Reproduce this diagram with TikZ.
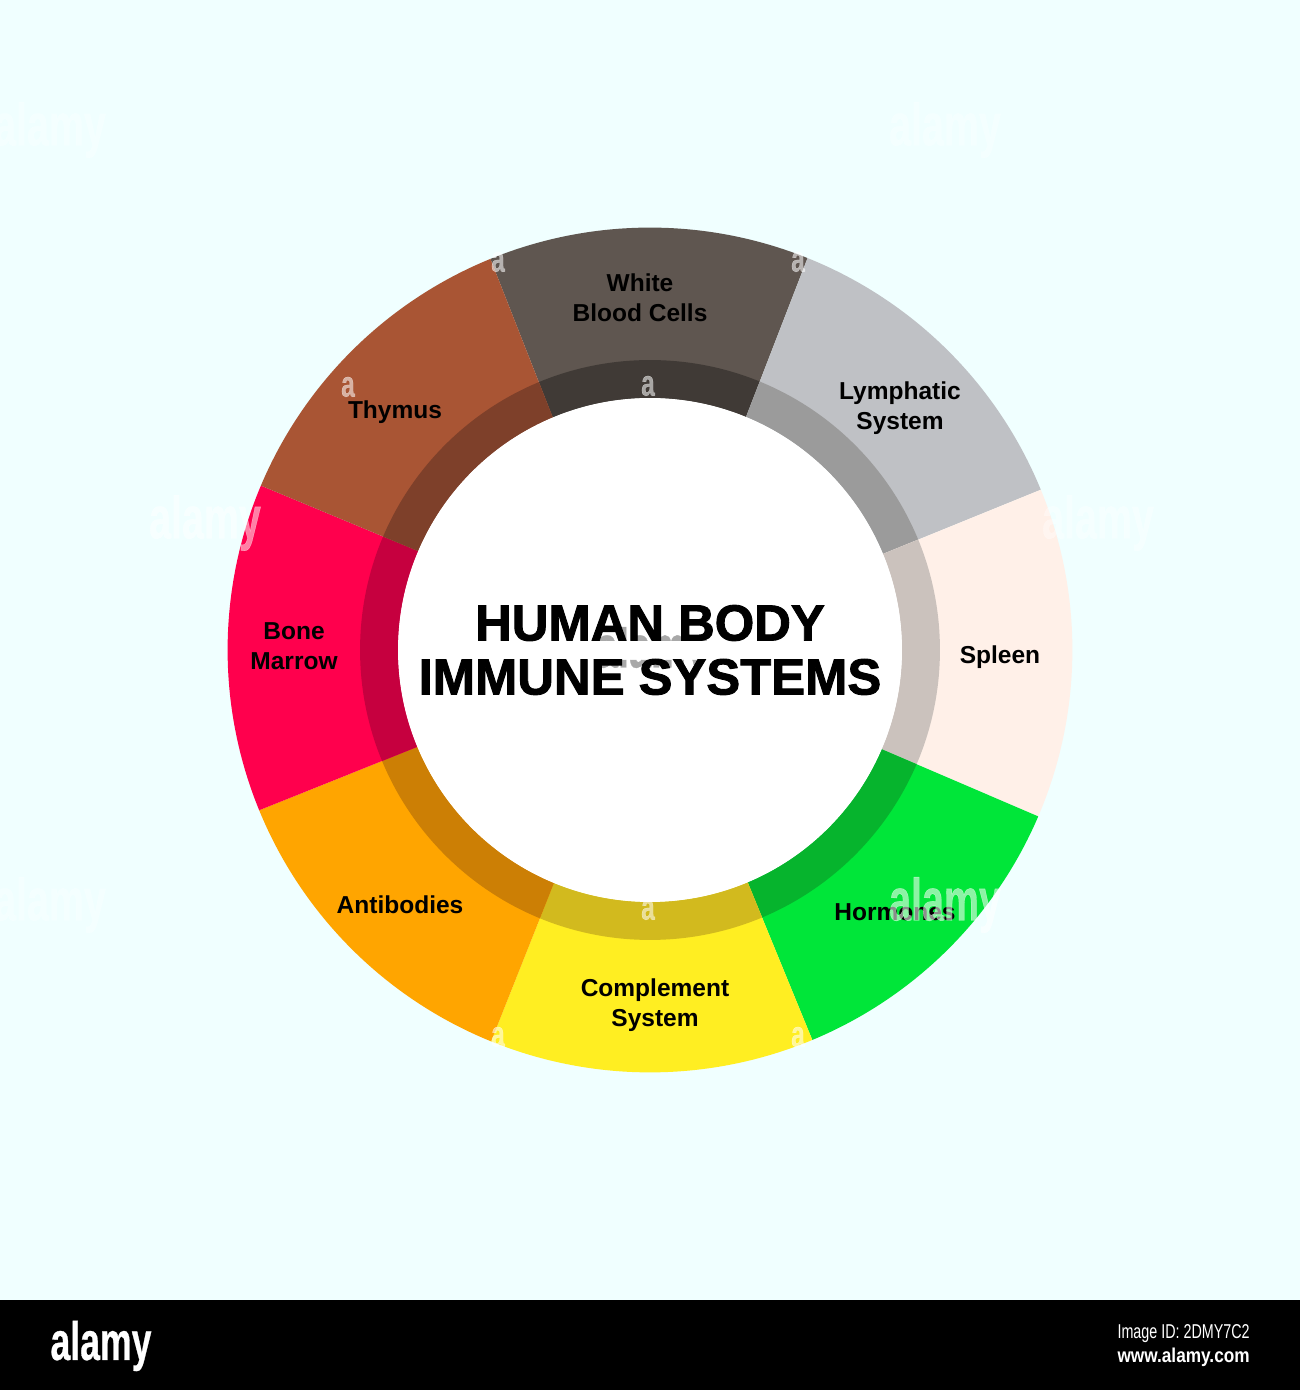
\documentclass[tikz,border=0pt]{standalone}
\usepackage{fontspec}
\setmainfont{Liberation Sans}
\newfontfamily\titlefont{Liberation Sans Bold}[FakeBold=1.8]
\newfontfamily\logofont{Liberation Sans Bold}[FakeStretch=0.66,FakeBold=0.5]
\newfontfamily\idfont{Liberation Sans}[FakeStretch=0.715]
\newfontfamily\urlfont{Liberation Sans}[BoldFeatures={FakeStretch=0.86}]
\definecolor{bgazure}{HTML}{F0FFFF}
\definecolor{cwhite}{HTML}{5F5650}\definecolor{rwhite}{HTML}{403A36}
\definecolor{clymph}{HTML}{BFC1C5}\definecolor{rlymph}{HTML}{9B9B9B}
\definecolor{csplee}{HTML}{FFF0E8}\definecolor{rsplee}{HTML}{CBC2BD}
\definecolor{chorm}{HTML}{00E639}\definecolor{rhorm}{HTML}{06B42D}
\definecolor{ccomp}{HTML}{FFEE22}\definecolor{rcomp}{HTML}{D2BA1E}
\definecolor{canti}{HTML}{FFA500}\definecolor{ranti}{HTML}{CC7F05}
\definecolor{cbone}{HTML}{FF004D}\definecolor{rbone}{HTML}{C6003F}
\definecolor{cthym}{HTML}{A95534}\definecolor{rthym}{HTML}{7E402A}
\definecolor{wmgray}{HTML}{A8A8A8}
\tikzset{
  seglabel/.style={align=center,font=\fontsize{13.95pt}{17.07pt}\selectfont\bfseries,text=black,inner sep=0pt},
  titlelabel/.style={align=center,font=\fontsize{28.9pt}{30.7pt}\titlefont,text=black,inner sep=0pt},
  wmA/.style={inner sep=0pt,font=\fontsize{21pt}{21pt}\logofont,text=white},
  wmB/.style={inner sep=0pt,font=\fontsize{34pt}{34pt}\logofont,text=white}
}
% outer-from, inner-from, outer-to, inner-to, fill, ring fill
\newcommand{\ringsector}[6]{%
  \fill[#5] (#1:8.45cm) arc[start angle=#1,end angle=#3,radius=8.45cm] -- (#4:5.04cm) arc[start angle=#4,end angle=#2,radius=5.04cm] -- cycle;
  \begin{scope}
    \clip (0,0) circle[radius=5.8cm];
    \fill[#6] (#1:8.45cm) arc[start angle=#1,end angle=#3,radius=8.45cm] -- (#4:5.04cm) arc[start angle=#4,end angle=#2,radius=5.04cm] -- cycle;
  \end{scope}}
\begin{document}
\begin{tikzpicture}[x=0.02cm,y=0.02cm]
\useasboundingbox (0,0) rectangle (1300,1390);
\fill[bgazure] (0,0) rectangle (1300,1390);
\fill[black] (0,0) rectangle (1300,90);
\begin{scope}[shift={(650,740)}]
  \ringsector{68.1}{67.6}{112.2}{112.7}{cwhite}{rwhite}
  \ringsector{22.3}{22.4}{68.1}{67.6}{clymph}{rlymph}
  \ringsector{-23.2}{-23.2}{22.3}{22.4}{csplee}{rsplee}
  \ringsector{-67.4}{-67.2}{-23.2}{-23.2}{chorm}{rhorm}
  \ringsector{-112.1}{-112.4}{-67.4}{-67.2}{ccomp}{rcomp}
  \ringsector{-157.7}{-157.4}{-112.1}{-112.4}{canti}{ranti}
  \ringsector{157.1}{156.9}{202.3}{202.6}{cbone}{rbone}
  \ringsector{112.2}{112.7}{157.1}{156.9}{cthym}{rthym}
  \fill[white] (0,0) circle[radius=5.04cm];
\end{scope}
% centre stock mark, seen only above and below the gap of the title lines
\begin{scope}
  \clip (590,749) rectangle (710,763) (590,712) rectangle (710,730);
  \node[wmB,text=wmgray] (w0) at (652,738) {alamy};
\end{scope}
\node[titlelabel] (title) at (650,740) {HUMAN BODY\\IMMUNE SYSTEMS};
\node[seglabel] (wbc) at (640,1092) {White\\Blood Cells};
\node[seglabel] (lym) at (900,982) {Lymphatic\\System};
\node[seglabel] (spl) at (1000,733) {Spleen};
\node[seglabel] (hor) at (895,478) {Hormones};
\node[seglabel] (com) at (655,384.5) {Complement\\System};
\node[seglabel] (ant) at (400,485) {Antibodies};
\node[seglabel] (bon) at (294,744) {Bone\\Marrow};
\node[seglabel] (thy) at (395,978) {Thymus};
% stock-photo marks printed over the picture
\node[wmA,opacity=.55] (a1) at (648,1004) {a};
\node[wmA,opacity=.55] (a2) at (348,1003) {a};
\node[wmA,opacity=.55] (a3) at (798,1128) {a};
\node[wmA,opacity=.55] (a4) at (498,1128) {a};
\node[wmA,opacity=.55] (a5) at (648,480) {a};
\node[wmA,opacity=.55] (a6) at (798,353) {a};
\node[wmA,opacity=.55] (a7) at (498,353) {a};
\node[wmB,opacity=.55] (w1) at (945,485) {alamy};
\node[wmB,opacity=.5] (w2) at (205,867) {alamy};
\node[wmB,opacity=.35] (w3) at (1098,867) {alamy};
\node[wmB,opacity=.3] (w4) at (50,485) {alamy};
\node[wmB,opacity=.3] (w5) at (50,1260) {alamy};
\node[wmB,opacity=.3] (w6) at (945,1260) {alamy};
% footer
\node[inner sep=0pt,font=\fontsize{30.7pt}{30.7pt}\logofont,text=white] (logo) at (101,44) {alamy};
\node[inner sep=0pt,anchor=east,font=\fontsize{11.4pt}{12pt}\idfont,text=white] (imgid) at (1250,56) {Image ID: 2DMY7C2};
\node[inner sep=0pt,anchor=east,font=\fontsize{11.4pt}{12pt}\urlfont\bfseries,text=white] (url) at (1250,33) {www.alamy.com};
\end{tikzpicture}
\end{document}
